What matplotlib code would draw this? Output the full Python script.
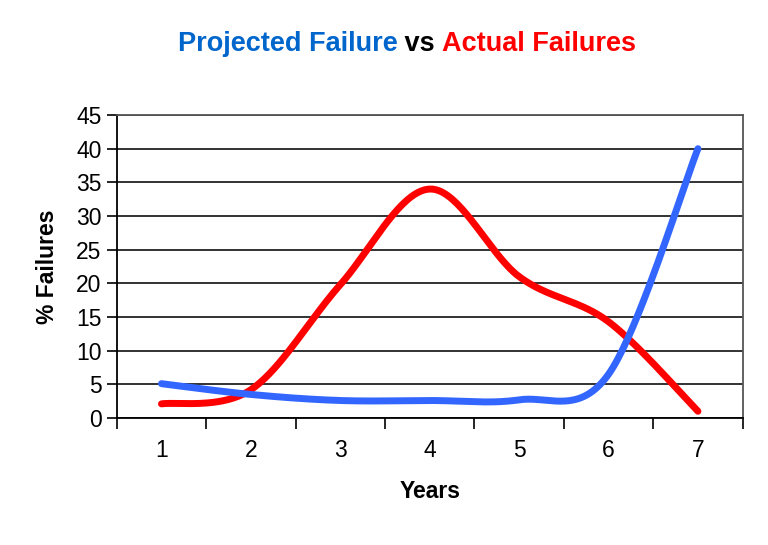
import numpy as np
import matplotlib
matplotlib.use("Agg")
import matplotlib.pyplot as plt

years = [1, 2, 3, 4, 5, 6, 7]
projected = [5.1, 3.5, 2.6, 2.6, 2.7, 6.5, 40]
actual = [2.1, 4.2, 19.8, 34.0, 21.0, 14.3, 1.0]


def smooth(xs, ys, n=40):
    # excel-like smoothing: catmull-rom through the points
    xs = np.asarray(xs, float)
    ys = np.asarray(ys, float)
    px = np.concatenate([[xs[0]], xs, [xs[-1]]])
    py = np.concatenate([[ys[0]], ys, [ys[-1]]])
    ox, oy = [], []
    t = np.linspace(0, 1, n)
    for i in range(1, len(px) - 2):
        p0, p1, p2, p3 = [np.array([px[j], py[j]]) for j in range(i - 1, i + 3)]
        c1 = p1 + (p2 - p0) / 6
        c2 = p2 - (p3 - p1) / 6
        seg = ((1 - t) ** 3)[:, None] * p1 + (3 * (1 - t) ** 2 * t)[:, None] * c1 \
            + (3 * (1 - t) * t ** 2)[:, None] * c2 + (t ** 3)[:, None] * p2
        ox.extend(seg[:, 0])
        oy.extend(seg[:, 1])
    return np.array(ox), np.array(oy)


plt.rcParams['font.family'] = ['Liberation Sans', 'DejaVu Sans']

fig = plt.figure(figsize=(7.68, 5.45), dpi=100)
ax = fig.add_axes([0.152, 0.233, 0.815, 0.556])

bx, by = smooth(years, projected)
rx, ry = smooth(years, actual)
ax.plot(rx, ry, color='#FF0000', lw=5, solid_capstyle='round', zorder=3)
ax.plot(bx, by, color='#3366FF', lw=5, solid_capstyle='round', zorder=4)

ax.set_xlim(0.5, 7.5)
ax.set_ylim(0, 45)
ax.set_yticks(range(0, 46, 5))
ax.set_xticks(np.arange(0.5, 7.6, 1))
ax.set_xticklabels([])
ax.set_xticks(years, minor=True)
ax.set_xticklabels([str(y) for y in years], minor=True)
ax.tick_params(axis='x', which='major', direction='out', length=8, width=1.2, color='black')
ax.tick_params(axis='x', which='minor', length=0, labelsize=16.5, pad=15)
ax.tick_params(axis='y', direction='out', length=7, width=1.2, labelsize=16.5, pad=4)
ax.grid(axis='y', color='#222222', lw=1.3)
ax.set_axisbelow(True)
for s in ['left', 'bottom']:
    ax.spines[s].set_color('black')
    ax.spines[s].set_linewidth(1.3)
for s in ['top', 'right']:
    ax.spines[s].set_color('#555555')
    ax.spines[s].set_linewidth(1.3)

ax.set_xlabel('Years', fontsize=16.5, fontweight='bold', labelpad=13)
ax.set_ylabel('% Failures', fontsize=16.5, fontweight='bold', labelpad=12)

# title in three colours
parts = [('Projected Failure', '#0066CC'), (' vs ', 'black'), ('Actual Failures', '#FF0000')]
renderer = fig.canvas.get_renderer()
texts = []
for s, c in parts:
    t = fig.text(0, 0.907, s, color=c, fontsize=19.5, fontweight='bold', ha='left', va='baseline')
    texts.append(t)
widths = [t.get_window_extent(renderer).width for t in texts]
total = sum(widths)
x0 = (fig.bbox.width * 0.530 - total / 2)
for t, w in zip(texts, widths):
    t.set_x(x0 / fig.bbox.width)
    x0 += w

fig.savefig('out.png', dpi=100)
